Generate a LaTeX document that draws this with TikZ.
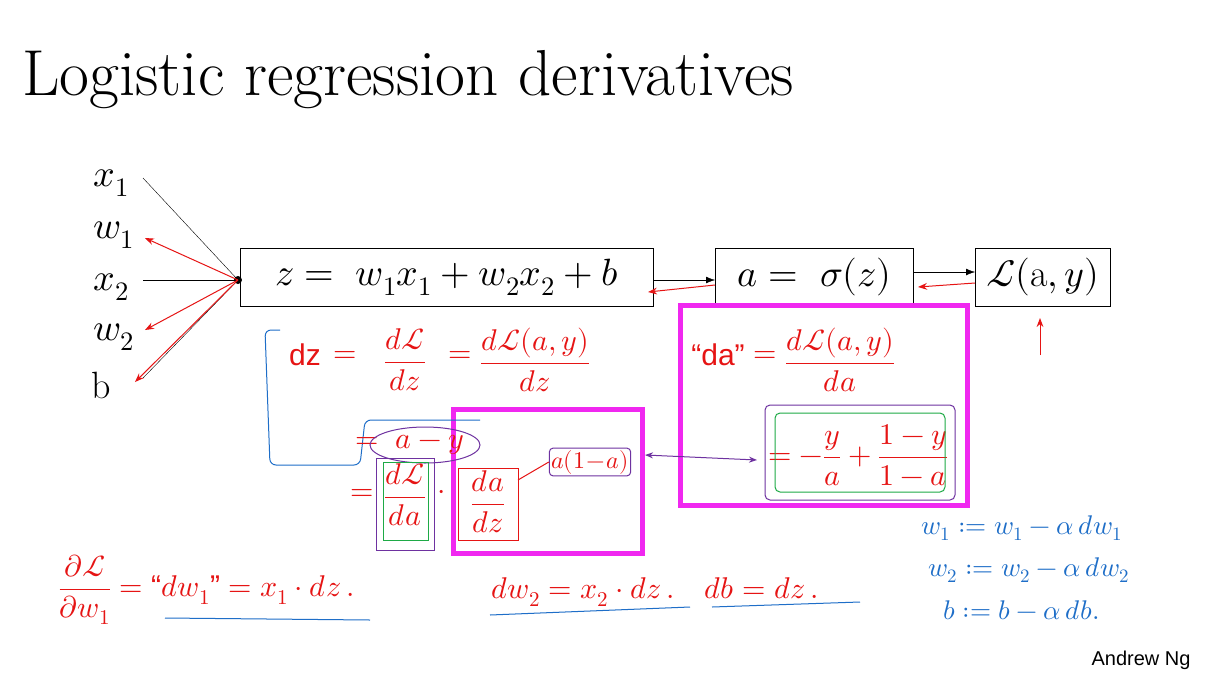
\documentclass[tikz,border=0pt]{standalone}
\usepackage{amsmath}
\usepackage{fontspec}
\usepackage{unicode-math}
\setmathfont{Latin Modern Math}
\newfontfamily\hand{Liberation Sans}
\usetikzlibrary{arrows.meta}
\definecolor{mag}{RGB}{240,40,240}
\definecolor{hred}{RGB}{230,20,20}
\definecolor{hblue}{RGB}{30,110,200}
\definecolor{hpur}{RGB}{110,50,160}
\definecolor{hgreen}{RGB}{30,170,70}
\tikzset{box/.style={draw,line width=0.8pt,minimum height=58pt,inner sep=4pt,font=\fontsize{38}{44}\selectfont},
 red/.style={text=hred,font=\hand\fontsize{30}{34}\selectfont},
 blu/.style={text=hblue,font=\hand\fontsize{27}{30}\selectfont},
 magbox/.style={draw=mag,line width=5pt},
 rarr/.style={hred,line width=1pt,-{Stealth[length=9pt]}},
 inp/.style={anchor=west,font=\fontsize{38}{42}\selectfont}}
\begin{document}
\begin{tikzpicture}[x=1pt,y=-1pt]
\useasboundingbox[fill=white] (0,0) rectangle (1211,673);
\node[anchor=base west,font=\fontsize{65}{72}\selectfont,inner sep=0] (title) at (22,95) {Logistic regression derivatives};
% inputs
\node[inp] (x1) at (90,183) {$x_1$};
\node[inp] (w1) at (90,235) {$w_1$};
\node[inp] (x2) at (90,287) {$x_2$};
\node[inp] (w2) at (90,337) {$w_2$};
\node[inp] (b) at (88,385) {b};
\node[box,anchor=north west,minimum width=413pt] (z) at (240,248) {$z =\ w_1x_1 + w_2x_2 + b$};
\node[box,anchor=north west,minimum width=198pt] (a) at (715,248) {$a =\ \sigma(z)$};
\node[box,anchor=north west,minimum width=135pt] (L) at (975,248) {$\mathcal{L}(\mathrm{a},y)$};
\coordinate (c) at (238,280);
\fill (c) circle (4pt);
\draw (143,178) -- (c);
\draw (143,280) -- (c);
\draw (143,378) -- (c);
\draw[rarr] (c) -- (145,238);
\draw[rarr] (c) -- (145,330);
\draw[rarr] (c) -- (135,382);
\draw[-{Latex[length=9pt]}] (z.east|-0,280) -- (a.west|-0,280);
\draw[-{Latex[length=9pt]}] (a.east|-0,272) -- (L.west|-0,272);
\draw[rarr] (715,285) -- (648,292);
\draw[rarr] (975,283) -- (918,287);
\draw[rarr] (1040,355) -- (1040,318);
% magenta boxes
\draw[magbox] (680,305) rectangle (967,505);
\draw[magbox] (453,409) rectangle (642,553);
% left derivations
\draw[hblue,line width=1pt,rounded corners=6pt] (280,330) -- (265,330) -- (270,465) -- (360,465) -- (365,420) -- (480,420);
\node[red] (dz) at (305,355) {dz};
\node[red] (e1) at (345,357) {$=$};
\node[red] (f1) at (405,360) {$\dfrac{d\mathcal{L}}{dz}$};
\node[red] (e2) at (460,357) {$=$};
\node[red] (f2) at (535,360) {$\dfrac{d\mathcal{L}(a,y)}{dz}$};
\node[red] (e3) at (410,445) {$=\ a - y$};
\draw[hpur,line width=1pt] (425,445) ellipse (55pt and 18pt);
\node[red] (e4) at (362,495) {$=$};
\node[red] (f3) at (405,495) {$\dfrac{d\mathcal{L}}{da}$};
\node[red] (dot) at (442,495) {$\cdot$};
\node[red] (f4) at (488,502) {$\dfrac{da}{dz}$};
\draw[hgreen,line width=1pt] (383,462) rectangle (428,540);
\draw[hpur,line width=1pt] (376,458) rectangle (434,550);
\draw[hred,line width=1pt] (458,468) rectangle (518,540);
\node[red,draw=hpur,line width=1pt,rounded corners=4pt,inner sep=2pt,font=\hand\fontsize{24}{28}\selectfont] (s) at (590,462) {$a(1\!-\!a)$};
\draw[hred,line width=1pt] (518,480) -- (s.west);
% right derivation
\node[red] (da) at (718,355) {“da”};
\node[red] (e5) at (765,357) {$=$};
\node[red] (f5) at (840,360) {$\dfrac{d\mathcal{L}(a,y)}{da}$};
\node[red] (f6) at (858,455) {$= -\dfrac{y}{a} + \dfrac{1-y}{1-a}$};
\draw[hgreen,line width=1pt,rounded corners=5pt] (775,413) rectangle (945,492);
\draw[hpur,line width=1pt,rounded corners=5pt] (765,405) rectangle (955,500);
\draw[hpur,line width=1pt,{Stealth[length=8pt]}-{Stealth[length=8pt]}] (645,455) -- (757,460);
% bottom
\node[red,anchor=west] (g1) at (55,590) {$\dfrac{\partial\mathcal{L}}{\partial w_1} =$ “$dw_1$” $= x_1\cdot dz\,.$};
\draw[hblue,line width=1pt] (165,618) -- (370,620);
\node[red,anchor=west] (g2) at (488,592) {$dw_2 = x_2\cdot dz\,.$\quad $db = dz\,.$};
\draw[hblue,line width=1pt] (490,615) -- (690,607);
\draw[hblue,line width=1pt] (712,607) -- (860,602);
\node[blu,anchor=west] (u1) at (918,528) {$w_1 := w_1 - \alpha\, dw_1$};
\node[blu,anchor=west] (u2) at (925,570) {$w_2 := w_2 - \alpha\, dw_2$};
\node[blu,anchor=west] (u3) at (940,610) {$b := b - \alpha\, db.$};
\node[anchor=west,font=\hand\fontsize{20}{24}\selectfont] (ng) at (1088,660) {Andrew Ng};
\end{tikzpicture}
\end{document}
